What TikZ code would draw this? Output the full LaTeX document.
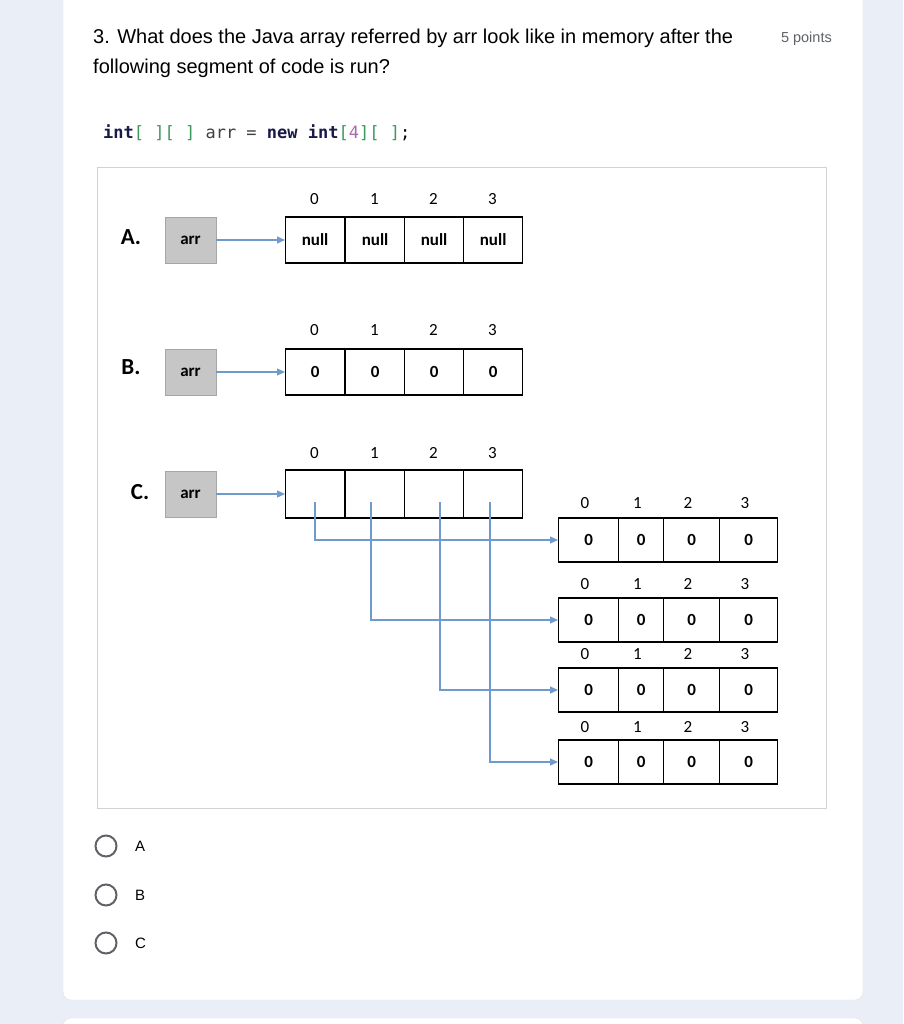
\documentclass[tikz,border=0pt]{standalone}
\usepackage{fontspec}
\setmainfont{Liberation Sans}
\newfontfamily\calfont{Carlito}
\newfontfamily\monofont{DejaVu Sans Mono}
\usetikzlibrary{arrows.meta}
\definecolor{pagebg}{HTML}{EAEEF6}
\definecolor{lnk}{HTML}{6F9ACB}
\definecolor{kw}{HTML}{1A1A4A}
\definecolor{br}{HTML}{3C9A5C}
\definecolor{num}{HTML}{A66BB0}
\definecolor{gr}{HTML}{5F6368}
\tikzset{
 cell/.style={draw=black,line width=1.2pt,minimum width=#1,minimum height=46pt,inner sep=0pt,font=\calfont\bfseries\fontsize{17}{17}\selectfont},
 idx/.style={font=\calfont\fontsize{17}{17}\selectfont,inner sep=0pt},
 arrbox/.style={draw=gray!70,fill=gray!45,minimum width=51pt,minimum height=46pt,inner sep=0pt,font=\calfont\bfseries\fontsize{17}{17}\selectfont},
 lbl/.style={font=\calfont\bfseries\fontsize{23}{23}\selectfont,inner sep=0pt},
 link/.style={draw=lnk,line width=1.2pt,-{Triangle[length=8pt,width=7pt]}},
 vlink/.style={draw=lnk,line width=1.2pt},
 radio/.style={circle,draw=gr,line width=2pt,minimum size=21pt,inner sep=0pt},
 opt/.style={font=\fontsize{15}{15}\selectfont,anchor=west,inner sep=0pt}
}
\begin{document}
\begin{tikzpicture}[x=1pt,y=-1pt]
\useasboundingbox (0,0) rectangle (903,1024);
\fill[pagebg] (0,0) rectangle (903,1024);
\fill[white,draw=gray!25,rounded corners=8pt] (63,-20) rectangle (863,1000);
\fill[white,draw=gray!25,rounded corners=8pt] (63,1018) rectangle (863,1060);
\node[anchor=west,inner sep=0pt,font=\fontsize{20}{20}\selectfont] (t1) at (93,38) {3. What does the Java array referred by arr look like in memory after the};
\node[anchor=west,inner sep=0pt,font=\fontsize{20}{20}\selectfont] (t2) at (93,68) {following segment of code is run?};
\node[anchor=east,inner sep=0pt,font=\fontsize{14.5}{14.5}\selectfont,text=gr] (pts) at (832,39) {5 points};
\node[anchor=west,inner sep=0pt,font=\monofont\fontsize{17}{17}\selectfont] (code) at (103,133)
 {\textcolor{kw}{\bfseries int}\textcolor{br}{[ ][ ]} \textcolor{darkgray}{arr = }\textcolor{kw}{\bfseries new int}\textcolor{br}{[}\textcolor{num}{4}\textcolor{br}{][ ]};};
\draw[draw=gray!35,fill=white] (97,167) rectangle (826,808);
% A
\node[lbl] (la) at (131,237) {A.};
\node[arrbox] (arrA) at (190.5,240) {arr};
\foreach \i/\x in {0/285,1/345,2/404,3/463}{
 \node[cell=59pt,anchor=west] (a\i) at (\x,240) {null};
 \node[idx] (ai\i) at (\x+29.5,199) {\i};}
\draw[link] (arrA) -- (a0.west);
% B
\node[lbl] (lb) at (131,367) {B.};
\node[arrbox] (arrB) at (190.5,372) {arr};
\foreach \i/\x in {0/285,1/345,2/404,3/463}{
 \node[cell=59pt,anchor=west] (b\i) at (\x,372) {0};
 \node[idx] (bi\i) at (\x+29.5,330) {\i};}
\draw[link] (arrB) -- (b0.west);
% C
\node[lbl] (lc) at (140,492) {C.};
\node[arrbox] (arrC) at (190.5,494) {arr};
\foreach \i/\x in {0/285,1/345,2/404,3/463}{
 \node[cell=59pt,minimum height=48pt,anchor=west] (c\i) at (\x,494) {};
 \node[idx] (ci\i) at (\x+29.5,453) {\i};}
\draw[link] (arrC) -- (c0.west);
\foreach \r/\y/\iy in {0/540/503,1/620/584,2/690/654,3/762/727}{
 \foreach \j/\x/\w in {0/558/60,1/618/45,2/663/56,3/719/58}{
  \node[cell=\w pt,minimum height=44pt,anchor=west] (r\r c\j) at (\x,\y) {0};
  \node[idx] (r\r i\j) at (\x+\w/2-3,\iy) {\j};}}
\foreach \r/\x in {0/315,1/371,2/440,3/490}{
 \coordinate (s\r) at (\x,502);
 \draw[vlink] (s\r) |- ([xshift=-6pt]r\r c0.west);
 \draw[link] ([xshift=-8pt]r\r c0.west) -- (r\r c0.west);}
% options
\foreach \n/\y/\t in {oa/846/A,ob/895/B,oc/943/C}{
 \node[radio] (\n) at (106,\y) {};
 \node[opt] (\n t) at (135,\y) {\t};}
\end{tikzpicture}
\end{document}
